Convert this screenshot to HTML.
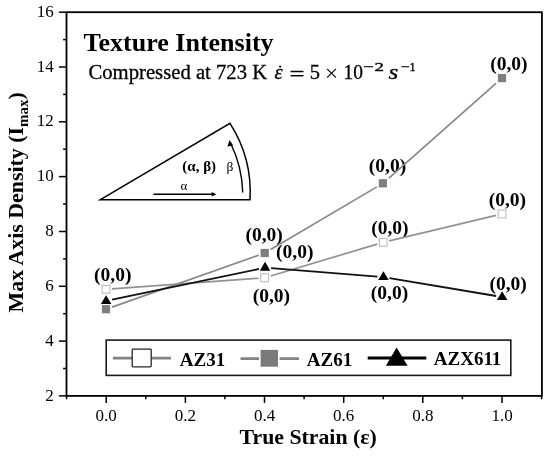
<!DOCTYPE html>
<html><head><meta charset="utf-8"><title>Texture Intensity</title>
<style>html,body{margin:0;padding:0;background:#fff;}svg{display:block;}</style></head>
<body><svg width="550" height="456" viewBox="0 0 550 456">
<rect width="550" height="456" fill="#fff"/>
<rect x="66.5" y="12.2" width="475.4" height="383.7" fill="none" stroke="#000" stroke-width="1.8"/>
<line x1="58.9" y1="395.9" x2="66.5" y2="395.9" stroke="#000" stroke-width="1.5"/>
<text x="53.8" y="400.5" text-anchor="end" font-family="'Liberation Serif', 'Times New Roman', serif" font-size="17">2</text>
<line x1="63.1" y1="368.5" x2="66.5" y2="368.5" stroke="#000" stroke-width="1.5"/>
<line x1="58.9" y1="341.1" x2="66.5" y2="341.1" stroke="#000" stroke-width="1.5"/>
<text x="53.8" y="345.7" text-anchor="end" font-family="'Liberation Serif', 'Times New Roman', serif" font-size="17">4</text>
<line x1="63.1" y1="313.7" x2="66.5" y2="313.7" stroke="#000" stroke-width="1.5"/>
<line x1="58.9" y1="286.3" x2="66.5" y2="286.3" stroke="#000" stroke-width="1.5"/>
<text x="53.8" y="290.9" text-anchor="end" font-family="'Liberation Serif', 'Times New Roman', serif" font-size="17">6</text>
<line x1="63.1" y1="258.9" x2="66.5" y2="258.9" stroke="#000" stroke-width="1.5"/>
<line x1="58.9" y1="231.5" x2="66.5" y2="231.5" stroke="#000" stroke-width="1.5"/>
<text x="53.8" y="236.1" text-anchor="end" font-family="'Liberation Serif', 'Times New Roman', serif" font-size="17">8</text>
<line x1="63.1" y1="204.0" x2="66.5" y2="204.0" stroke="#000" stroke-width="1.5"/>
<line x1="58.9" y1="176.6" x2="66.5" y2="176.6" stroke="#000" stroke-width="1.5"/>
<text x="53.8" y="181.2" text-anchor="end" font-family="'Liberation Serif', 'Times New Roman', serif" font-size="17">10</text>
<line x1="63.1" y1="149.2" x2="66.5" y2="149.2" stroke="#000" stroke-width="1.5"/>
<line x1="58.9" y1="121.8" x2="66.5" y2="121.8" stroke="#000" stroke-width="1.5"/>
<text x="53.8" y="126.4" text-anchor="end" font-family="'Liberation Serif', 'Times New Roman', serif" font-size="17">12</text>
<line x1="63.1" y1="94.4" x2="66.5" y2="94.4" stroke="#000" stroke-width="1.5"/>
<line x1="58.9" y1="67.0" x2="66.5" y2="67.0" stroke="#000" stroke-width="1.5"/>
<text x="53.8" y="71.6" text-anchor="end" font-family="'Liberation Serif', 'Times New Roman', serif" font-size="17">14</text>
<line x1="63.1" y1="39.6" x2="66.5" y2="39.6" stroke="#000" stroke-width="1.5"/>
<line x1="58.9" y1="12.2" x2="66.5" y2="12.2" stroke="#000" stroke-width="1.5"/>
<text x="53.8" y="16.8" text-anchor="end" font-family="'Liberation Serif', 'Times New Roman', serif" font-size="17">16</text>
<line x1="66.6" y1="395.9" x2="66.6" y2="399.3" stroke="#000" stroke-width="1.5"/>
<line x1="106.2" y1="395.9" x2="106.2" y2="402.9" stroke="#000" stroke-width="1.5"/>
<text x="106.2" y="421.4" text-anchor="middle" font-family="'Liberation Serif', 'Times New Roman', serif" font-size="17">0.0</text>
<line x1="145.8" y1="395.9" x2="145.8" y2="399.3" stroke="#000" stroke-width="1.5"/>
<line x1="185.4" y1="395.9" x2="185.4" y2="402.9" stroke="#000" stroke-width="1.5"/>
<text x="185.4" y="421.4" text-anchor="middle" font-family="'Liberation Serif', 'Times New Roman', serif" font-size="17">0.2</text>
<line x1="224.9" y1="395.9" x2="224.9" y2="399.3" stroke="#000" stroke-width="1.5"/>
<line x1="264.5" y1="395.9" x2="264.5" y2="402.9" stroke="#000" stroke-width="1.5"/>
<text x="264.5" y="421.4" text-anchor="middle" font-family="'Liberation Serif', 'Times New Roman', serif" font-size="17">0.4</text>
<line x1="304.1" y1="395.9" x2="304.1" y2="399.3" stroke="#000" stroke-width="1.5"/>
<line x1="343.7" y1="395.9" x2="343.7" y2="402.9" stroke="#000" stroke-width="1.5"/>
<text x="343.7" y="421.4" text-anchor="middle" font-family="'Liberation Serif', 'Times New Roman', serif" font-size="17">0.6</text>
<line x1="383.3" y1="395.9" x2="383.3" y2="399.3" stroke="#000" stroke-width="1.5"/>
<line x1="422.8" y1="395.9" x2="422.8" y2="402.9" stroke="#000" stroke-width="1.5"/>
<text x="422.8" y="421.4" text-anchor="middle" font-family="'Liberation Serif', 'Times New Roman', serif" font-size="17">0.8</text>
<line x1="462.4" y1="395.9" x2="462.4" y2="399.3" stroke="#000" stroke-width="1.5"/>
<line x1="502.0" y1="395.9" x2="502.0" y2="402.9" stroke="#000" stroke-width="1.5"/>
<text x="502.0" y="421.4" text-anchor="middle" font-family="'Liberation Serif', 'Times New Roman', serif" font-size="17">1.0</text>
<line x1="541.6" y1="395.9" x2="541.6" y2="399.3" stroke="#000" stroke-width="1.5"/>
<text x="112.8" y="281.3" text-anchor="middle" font-family="'Liberation Serif', 'Times New Roman', serif" font-weight="bold" font-size="19.5">(0,0)</text>
<text x="264.1" y="241.2" text-anchor="middle" font-family="'Liberation Serif', 'Times New Roman', serif" font-weight="bold" font-size="19.5">(0,0)</text>
<text x="294.8" y="258.3" text-anchor="middle" font-family="'Liberation Serif', 'Times New Roman', serif" font-weight="bold" font-size="19.5">(0,0)</text>
<text x="271.4" y="301.8" text-anchor="middle" font-family="'Liberation Serif', 'Times New Roman', serif" font-weight="bold" font-size="19.5">(0,0)</text>
<text x="387.5" y="171.7" text-anchor="middle" font-family="'Liberation Serif', 'Times New Roman', serif" font-weight="bold" font-size="19.5">(0,0)</text>
<text x="389.9" y="233.9" text-anchor="middle" font-family="'Liberation Serif', 'Times New Roman', serif" font-weight="bold" font-size="19.5">(0,0)</text>
<text x="389.5" y="298.6" text-anchor="middle" font-family="'Liberation Serif', 'Times New Roman', serif" font-weight="bold" font-size="19.5">(0,0)</text>
<text x="508.9" y="69.5" text-anchor="middle" font-family="'Liberation Serif', 'Times New Roman', serif" font-weight="bold" font-size="19.5">(0,0)</text>
<text x="507.4" y="205.5" text-anchor="middle" font-family="'Liberation Serif', 'Times New Roman', serif" font-weight="bold" font-size="19.5">(0,0)</text>
<text x="508.1" y="289.7" text-anchor="middle" font-family="'Liberation Serif', 'Times New Roman', serif" font-weight="bold" font-size="19.5">(0,0)</text>
<path d="M112.00,288.86L258.60,278.24M270.60,276.00L377.20,244.10M389.20,240.87L496.00,215.43" fill="none" stroke="#929292" stroke-width="1.7"/>
<path d="M112.00,307.08L258.70,255.12M270.70,249.46L376.90,186.89M388.90,178.05L496.00,83.40" fill="none" stroke="#888888" stroke-width="1.7"/>
<path d="M112.10,299.74L259.05,268.96M271.05,268.18L377.45,276.62M389.45,278.11L496.15,295.99" fill="none" stroke="#111" stroke-width="1.8"/>
<rect x="102.1" y="285.4" width="7.8" height="7.8" fill="#fff" stroke="#bdbdbd" stroke-width="1.1"/>
<rect x="260.7" y="273.9" width="7.8" height="7.8" fill="#fff" stroke="#bdbdbd" stroke-width="1.1"/>
<rect x="379.3" y="238.4" width="7.8" height="7.8" fill="#fff" stroke="#bdbdbd" stroke-width="1.1"/>
<rect x="498.1" y="210.1" width="7.8" height="7.8" fill="#fff" stroke="#bdbdbd" stroke-width="1.1"/>
<rect x="101.9" y="305.1" width="8.2" height="8.2" fill="#7f7f7f"/>
<rect x="260.6" y="248.9" width="8.2" height="8.2" fill="#7f7f7f"/>
<rect x="378.8" y="179.2" width="8.2" height="8.2" fill="#7f7f7f"/>
<rect x="497.9" y="74.0" width="8.2" height="8.2" fill="#7f7f7f"/>
<polygon points="100.85,303.95 111.35,303.95 106.10,295.15" fill="#000"/>
<polygon points="259.80,270.65 270.30,270.65 265.05,261.85" fill="#000"/>
<polygon points="378.20,280.05 388.70,280.05 383.45,271.25" fill="#000"/>
<polygon points="496.90,299.95 507.40,299.95 502.15,291.15" fill="#000"/>
<rect x="106.2" y="340.1" width="404.6" height="35.3" fill="#fff" stroke="#1a1a1a" stroke-width="1.6"/>
<line x1="112.9" y1="358.1" x2="171" y2="358.1" stroke="#848484" stroke-width="2.8"/>
<rect x="132.2" y="349.2" width="19" height="17.6" rx="0.8" fill="#fff" stroke="#262626" stroke-width="1.3"/>
<text x="179.8" y="365.5" font-family="'Liberation Serif', 'Times New Roman', serif" font-weight="bold" font-size="19">AZ31</text>
<path d="M240.5,358.6H259M279.6,358.6H299" stroke="#848484" stroke-width="2.8"/>
<rect x="260.6" y="349.9" width="17.4" height="16.8" fill="#7a7a7a"/>
<text x="306.8" y="365.5" font-family="'Liberation Serif', 'Times New Roman', serif" font-weight="bold" font-size="19">AZ61</text>
<line x1="367.7" y1="358" x2="426.3" y2="358" stroke="#000" stroke-width="3"/>
<polygon points="385.9,365.7 407.6,365.7 396.6,347.4" fill="#000"/>
<text x="433.8" y="365.3" font-family="'Liberation Serif', 'Times New Roman', serif" font-weight="bold" font-size="19">AZX611</text>
<text x="83.6" y="50.8" font-family="'Liberation Serif', 'Times New Roman', serif" font-weight="bold" font-size="26">Texture Intensity</text>
<text x="88.4" y="78.6" font-family="'Liberation Serif', 'Times New Roman', serif" font-size="20.5" stroke="#000" stroke-width="0.3" textLength="178.8" lengthAdjust="spacingAndGlyphs">Compressed at 723 K</text>
<text x="274.5" y="78.6" font-family="'Liberation Serif', 'Times New Roman', serif" font-size="20.5" stroke="#000" stroke-width="0.3" font-style="italic">ε</text>
<circle cx="280.2" cy="66.6" r="1.15" fill="#000"/>
<text x="289.6" y="80.8" font-family="'Liberation Serif', 'Times New Roman', serif" font-size="20.5" stroke="#000" stroke-width="0.3" textLength="15" lengthAdjust="spacingAndGlyphs">=</text>
<text x="309.8" y="78.6" font-family="'Liberation Serif', 'Times New Roman', serif" font-size="20.5" stroke="#000" stroke-width="0.3">5</text>
<text x="324.7" y="80.7" font-family="'Liberation Serif', 'Times New Roman', serif" font-size="24">×</text>
<text x="343.4" y="78.6" font-family="'Liberation Serif', 'Times New Roman', serif" font-size="20.5" stroke="#000" stroke-width="0.3" textLength="19.5" lengthAdjust="spacingAndGlyphs">10</text>
<text x="362.8" y="70.6" font-family="'Liberation Serif', 'Times New Roman', serif" font-size="13" stroke="#000" stroke-width="0.35" textLength="10.7" lengthAdjust="spacingAndGlyphs">−</text>
<text x="374.4" y="70.6" font-family="'Liberation Serif', 'Times New Roman', serif" font-size="12.5" stroke="#000" stroke-width="0.35" textLength="9.5" lengthAdjust="spacingAndGlyphs">2</text>
<text x="388.6" y="78.6" font-family="'Liberation Serif', 'Times New Roman', serif" font-size="22" stroke="#000" stroke-width="0.35" font-style="italic" textLength="9.8" lengthAdjust="spacingAndGlyphs">s</text>
<text x="400.5" y="71.1" font-family="'Liberation Serif', 'Times New Roman', serif" font-size="13" stroke="#000" stroke-width="0.35" textLength="9" lengthAdjust="spacingAndGlyphs">−</text>
<text x="409.6" y="70.6" font-family="'Liberation Serif', 'Times New Roman', serif" font-size="12" stroke="#000" stroke-width="0.35">1</text>
<path d="M100.4,199.7 L230,123.3 A128,128 0 0 1 250,199.8 Z" fill="none" stroke="#000" stroke-width="1.5" stroke-linejoin="miter"/>
<path d="M242.7,192.5 A118,118 0 0 0 230.5,143" fill="none" stroke="#000" stroke-width="1.4"/>
<polygon points="229.6,140 227.4,146.5 233.2,145.5" fill="#000"/>
<line x1="153.4" y1="194.2" x2="213" y2="194.2" stroke="#000" stroke-width="1.6"/>
<polygon points="216.4,194.2 211.6,191.9 211.6,196.5" fill="#000"/>
<text x="183.8" y="189.6" text-anchor="middle" font-family="'Liberation Serif', 'Times New Roman', serif" font-size="13">α</text>
<text x="199.2" y="170.6" text-anchor="middle" font-family="'Liberation Serif', 'Times New Roman', serif" font-weight="bold" font-size="15">(α, β)</text>
<text x="229.9" y="170.5" text-anchor="middle" font-family="'Liberation Serif', 'Times New Roman', serif" font-size="13.5">β</text>
<text x="308.2" y="443.6" text-anchor="middle" font-family="'Liberation Serif', 'Times New Roman', serif" font-weight="bold" font-size="21.8">True Strain (ε)</text>
<text transform="translate(23.3,202.3) rotate(-90)" text-anchor="middle" font-family="'Liberation Serif', 'Times New Roman', serif" font-weight="bold" font-size="21.9">Max Axis Density (I<tspan dy="4.6" font-size="15">max</tspan><tspan dy="-4.6">)</tspan></text>
</svg></body></html>
